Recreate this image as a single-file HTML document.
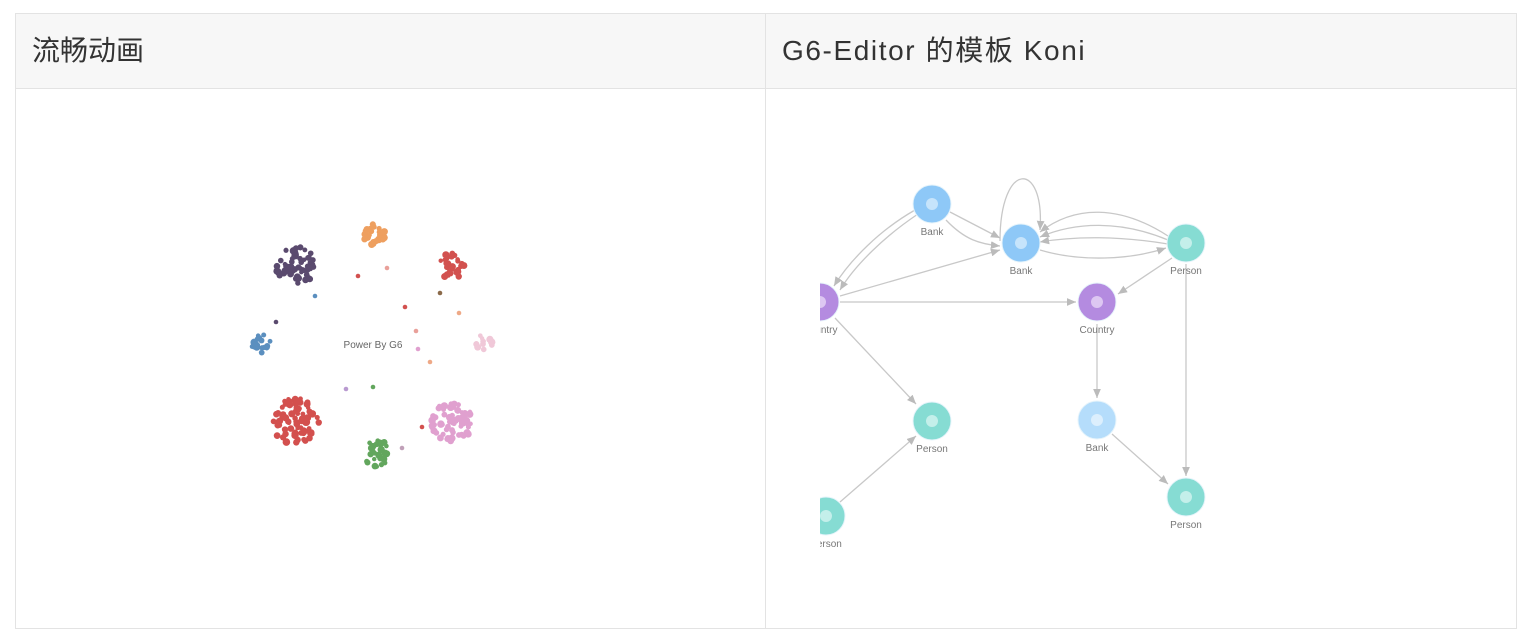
<!DOCTYPE html>
<html><head><meta charset="utf-8"><style>
body{margin:0;background:#fff;width:1536px;height:644px;overflow:hidden;font-family:"Liberation Sans","Noto Sans CJK SC",sans-serif;}
.t{position:absolute;left:15px;top:13px;width:1502px;height:616px;border:1px solid #e3e3e3;box-sizing:border-box;}
.h{position:absolute;left:0;top:0;width:100%;height:75px;background:#f7f7f7;border-bottom:1px solid #e3e3e3;box-sizing:border-box;}
.v{position:absolute;left:749px;top:0;width:1px;height:100%;background:#e3e3e3;}
.ht{position:absolute;top:19px;font-size:28px;line-height:36px;color:#333;}
svg{position:absolute;left:0;top:0;}
</style></head><body>
<div class="t"><div class="h"></div><div class="v"></div>
<div class="ht" style="left:16px">流畅动画</div>
<div class="ht" style="left:766px;letter-spacing:1.6px">G6-Editor 的模板 Koni</div>
</div>
<svg id="s" width="1536" height="644" xmlns="http://www.w3.org/2000/svg">
<defs><marker id="a" markerWidth="8" markerHeight="8" refX="7" refY="3" orient="auto"><path d="M0,0 L7,3 L0,6z" fill="#bbb"/></marker>
<clipPath id="c"><rect x="820" y="140" width="650" height="430"/></clipPath></defs>
<text x="373" y="348" font-size="10" fill="#666" text-anchor="middle" font-family="Liberation Sans">Power By G6</text>
<g id="dots"></g>
<g clip-path="url(#c)" stroke="#c8c8c8" stroke-width="1.3" fill="none">
<path d="M1000,241 C1000,160 1045,160 1040,230" marker-end="url(#a)"/>
<path d="M950,212 L1000,238" marker-end="url(#a)"/>
<path d="M946,220 C965,240 980,244 1000,246" marker-end="url(#a)"/>
<path d="M915,210 C880,230 850,260 834,286" marker-end="url(#a)"/>
<path d="M918,214 C885,236 855,265 840,290" marker-end="url(#a)"/>
<path d="M840,296 L1000,250" marker-end="url(#a)"/>
<path d="M1168,236 C1120,205 1075,205 1040,232" marker-end="url(#a)"/>
<path d="M1168,240 C1120,220 1075,222 1040,237" marker-end="url(#a)"/>
<path d="M1168,244 C1120,236 1075,236 1040,242" marker-end="url(#a)"/>
<path d="M1040,250 C1080,262 1130,260 1166,248" marker-end="url(#a)"/>
<path d="M1172,258 L1118,294" marker-end="url(#a)"/>
<path d="M840,302 L1076,302" marker-end="url(#a)"/>
<path d="M1097,324 L1097,398" marker-end="url(#a)"/>
<path d="M1186,264 L1186,476" marker-end="url(#a)"/>
<path d="M1112,434 L1168,484" marker-end="url(#a)"/>
<path d="M835,318 L916,404" marker-end="url(#a)"/>
<path d="M840,502 L916,436" marker-end="url(#a)"/>
</g>
<g clip-path="url(#c)" font-family="Liberation Sans" font-size="10" fill="#777" text-anchor="middle" id="nodes"></g>
</svg>
<script>
var g=document.getElementById('dots'),ns='http://www.w3.org/2000/svg';
function R(s){return function(){s=(s*9301+49297)%233280;return s/233280;}}
var rnd=R(7);
var cl=[[373,234,12,'#ee9f5f',28],[296,266,20,'#5a4a6e',60],[452,266,13,'#d2514f',28],[262,344,11,'#5b8fbf',18],[483,344,10,'#f0c8d8',10],[295,422,24,'#d3504e',85],[452,422,21,'#e0a0cf',70],[376,453,14,'#62a65d',26]];
cl.forEach(function(c){for(var i=0;i<c[4];i++){var a=rnd()*6.28,r=Math.sqrt(rnd())*c[2];var e=document.createElementNS(ns,'circle');e.setAttribute('cx',c[0]+r*Math.cos(a));e.setAttribute('cy',c[1]+r*Math.sin(a));e.setAttribute('r',2.2+rnd()*1.6);e.setAttribute('fill',c[3]);g.appendChild(e);}});
[[358,276,'#d2514f'],[387,268,'#e9a09a'],[440,293,'#8b6a4a'],[405,307,'#d2514f'],[459,313,'#eea987'],[416,331,'#e9a09a'],[418,349,'#e0a0cf'],[430,362,'#eea987'],[315,296,'#5b8fbf'],[276,322,'#5a4a6e'],[346,389,'#b99ad0'],[373,387,'#62a65d'],[402,448,'#c0a0b8'],[422,427,'#d3504e']].forEach(function(p){var e=document.createElementNS(ns,'circle');e.setAttribute('cx',p[0]);e.setAttribute('cy',p[1]);e.setAttribute('r',2.3);e.setAttribute('fill',p[2]);g.appendChild(e);});
var nd=document.getElementById('nodes');
[[932,204,'#8ec8f7','#c6e4fb','Bank'],[1021,243,'#8ec8f7','#c6e4fb','Bank'],[1186,243,'#86dcd3','#c4efea','Person'],[820,302,'#b48be0','#ddc7f2','Country'],[1097,302,'#b48be0','#ddc7f2','Country'],[932,421,'#86dcd3','#c4efea','Person'],[1097,420,'#b5ddfb','#dceffd','Bank'],[1186,497,'#86dcd3','#c4efea','Person'],[826,516,'#86dcd3','#c4efea','Person']].forEach(function(n){
var c=document.createElementNS(ns,'circle');c.setAttribute('cx',n[0]);c.setAttribute('cy',n[1]);c.setAttribute('r',19);c.setAttribute('fill',n[2]);c.setAttribute('stroke','#e6f4fb');c.setAttribute('stroke-width','1');nd.appendChild(c);
var d=document.createElementNS(ns,'circle');d.setAttribute('cx',n[0]);d.setAttribute('cy',n[1]);d.setAttribute('r',6);d.setAttribute('fill',n[3]);nd.appendChild(d);
var t=document.createElementNS(ns,'text');t.setAttribute('x',n[0]);t.setAttribute('y',n[1]+31);t.textContent=n[4];nd.appendChild(t);});
</script>
</body></html>
